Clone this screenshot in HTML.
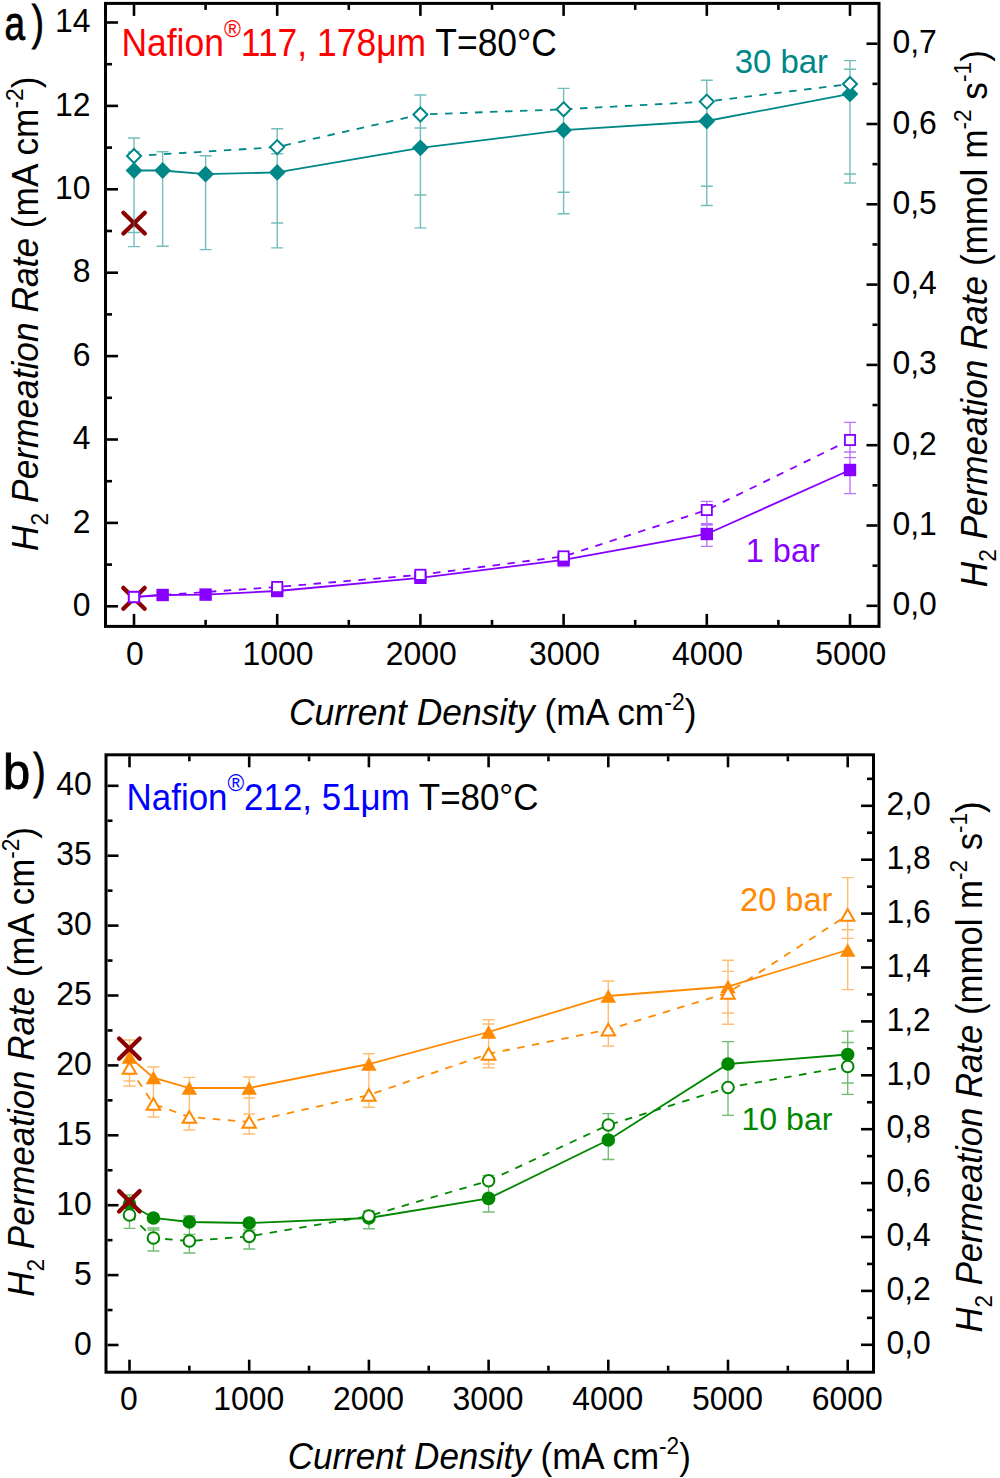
<!DOCTYPE html><html><head><meta charset="utf-8"><style>html,body{margin:0;padding:0;background:#fff;width:1000px;height:1478px;overflow:hidden}svg{display:block}text{font-family:'Liberation Sans',sans-serif}</style></head><body>
<svg width="1000" height="1478" viewBox="0 0 1000 1478">
<rect width="1000" height="1478" fill="#fff"/>
<line x1="123.40" y1="212.70" x2="144.80" y2="233.50" stroke="#8b0000" stroke-width="4.3" stroke-linecap="round"/>
<line x1="123.40" y1="233.50" x2="144.80" y2="212.70" stroke="#8b0000" stroke-width="4.3" stroke-linecap="round"/>
<line x1="123.30" y1="587.90" x2="144.70" y2="608.70" stroke="#8b0000" stroke-width="4.3" stroke-linecap="round"/>
<line x1="123.30" y1="608.70" x2="144.70" y2="587.90" stroke="#8b0000" stroke-width="4.3" stroke-linecap="round"/>
<path d="M134.00,138.00V246.60M128.00,138.00h12M128.00,152.00h12M128.00,232.50h12M128.00,246.60h12" stroke="#008787" stroke-width="1.4" fill="none" stroke-opacity="0.55"/>
<path d="M162.64,151.80V246.30M156.64,151.80h12M156.64,246.30h12" stroke="#008787" stroke-width="1.4" fill="none" stroke-opacity="0.55"/>
<path d="M205.60,155.80V249.60M199.60,155.80h12M199.60,249.60h12" stroke="#008787" stroke-width="1.4" fill="none" stroke-opacity="0.55"/>
<path d="M277.20,128.80V247.90M271.20,128.80h12M271.20,153.70h12M271.20,223.00h12M271.20,247.90h12" stroke="#008787" stroke-width="1.4" fill="none" stroke-opacity="0.55"/>
<path d="M420.40,95.00V227.90M414.40,95.00h12M414.40,128.00h12M414.40,195.00h12M414.40,227.90h12" stroke="#008787" stroke-width="1.4" fill="none" stroke-opacity="0.55"/>
<path d="M563.60,88.40V213.80M557.60,88.40h12M557.60,110.00h12M557.60,192.30h12M557.60,213.80h12" stroke="#008787" stroke-width="1.4" fill="none" stroke-opacity="0.55"/>
<path d="M706.80,80.30V205.50M700.80,80.30h12M700.80,99.50h12M700.80,186.30h12M700.80,205.50h12" stroke="#008787" stroke-width="1.4" fill="none" stroke-opacity="0.55"/>
<path d="M850.00,60.60V183.00M844.00,60.60h12M844.00,69.20h12M844.00,174.00h12M844.00,183.00h12" stroke="#008787" stroke-width="1.4" fill="none" stroke-opacity="0.55"/>
<path d="M134.00,592.00V600.00M128.00,592.00h12M128.00,600.00h12" stroke="#8700ff" stroke-width="1.4" fill="none" stroke-opacity="0.55"/>
<path d="M162.64,592.00V598.00M156.64,592.00h12M156.64,598.00h12" stroke="#8700ff" stroke-width="1.4" fill="none" stroke-opacity="0.55"/>
<path d="M277.20,584.00V590.00M271.20,584.00h12M271.20,590.00h12" stroke="#8700ff" stroke-width="1.4" fill="none" stroke-opacity="0.55"/>
<path d="M420.40,572.00V578.00M414.40,572.00h12M414.40,578.00h12" stroke="#8700ff" stroke-width="1.4" fill="none" stroke-opacity="0.55"/>
<path d="M563.60,553.00V566.60M557.60,553.00h12M557.60,566.60h12" stroke="#8700ff" stroke-width="1.4" fill="none" stroke-opacity="0.55"/>
<path d="M706.80,501.40V546.40M700.80,501.40h12M700.80,523.60h12M700.80,525.00h12M700.80,546.40h12" stroke="#8700ff" stroke-width="1.4" fill="none" stroke-opacity="0.55"/>
<path d="M850.00,422.40V493.60M844.00,422.40h12M844.00,452.00h12M844.00,457.60h12M844.00,493.60h12" stroke="#8700ff" stroke-width="1.4" fill="none" stroke-opacity="0.55"/>
<polyline points="134.00,156.00 277.20,147.10 420.40,114.50 563.60,109.30 706.80,101.60 850.00,84.00" fill="none" stroke="#008787" stroke-width="1.8" stroke-dasharray="7.5 7.5"/>
<polyline points="134.00,170.50 162.64,170.50 205.60,174.20 277.20,172.40 420.40,147.80 563.60,130.20 706.80,121.00 850.00,93.90" fill="none" stroke="#008787" stroke-width="1.8" />
<polyline points="134.00,597.00 277.20,587.00 420.40,574.80 563.60,556.40 706.80,510.00 850.00,440.00" fill="none" stroke="#8700ff" stroke-width="1.8" stroke-dasharray="7.5 7.5"/>
<polyline points="134.00,597.00 162.64,595.00 205.60,594.60 277.20,591.00 420.40,577.80 563.60,559.80 706.80,534.00 850.00,470.00" fill="none" stroke="#8700ff" stroke-width="1.8" />
<polygon points="134.0,162.1 142.4,170.5 134.0,178.9 125.6,170.5" fill="#008787"/>
<polygon points="162.64,162.1 171.04,170.5 162.64,178.9 154.23999999999998,170.5" fill="#008787"/>
<polygon points="205.6,165.79999999999998 214.0,174.2 205.6,182.6 197.2,174.2" fill="#008787"/>
<polygon points="277.2,164.0 285.59999999999997,172.4 277.2,180.8 268.8,172.4" fill="#008787"/>
<polygon points="420.4,139.4 428.79999999999995,147.8 420.4,156.20000000000002 412.0,147.8" fill="#008787"/>
<polygon points="563.5999999999999,121.79999999999998 571.9999999999999,130.2 563.5999999999999,138.6 555.1999999999999,130.2" fill="#008787"/>
<polygon points="706.8,112.6 715.1999999999999,121 706.8,129.4 698.4,121" fill="#008787"/>
<polygon points="850.0,85.5 858.4,93.9 850.0,102.30000000000001 841.6,93.9" fill="#008787"/>
<polygon points="134.0,149 141.0,156 134.0,163 127.0,156" fill="#fff" stroke="#008787" stroke-width="2"/>
<polygon points="277.2,140.1 284.2,147.1 277.2,154.1 270.2,147.1" fill="#fff" stroke="#008787" stroke-width="2"/>
<polygon points="420.4,107.5 427.4,114.5 420.4,121.5 413.4,114.5" fill="#fff" stroke="#008787" stroke-width="2"/>
<polygon points="563.5999999999999,102.3 570.5999999999999,109.3 563.5999999999999,116.3 556.5999999999999,109.3" fill="#fff" stroke="#008787" stroke-width="2"/>
<polygon points="706.8,94.6 713.8,101.6 706.8,108.6 699.8,101.6" fill="#fff" stroke="#008787" stroke-width="2"/>
<polygon points="850.0,77 857.0,84 850.0,91 843.0,84" fill="#fff" stroke="#008787" stroke-width="2"/>
<rect x="127.80" y="590.80" width="12.4" height="12.4" fill="#8700ff"/>
<rect x="156.44" y="588.80" width="12.4" height="12.4" fill="#8700ff"/>
<rect x="199.40" y="588.40" width="12.4" height="12.4" fill="#8700ff"/>
<rect x="271.00" y="584.80" width="12.4" height="12.4" fill="#8700ff"/>
<rect x="414.20" y="571.60" width="12.4" height="12.4" fill="#8700ff"/>
<rect x="557.40" y="553.60" width="12.4" height="12.4" fill="#8700ff"/>
<rect x="700.60" y="527.80" width="12.4" height="12.4" fill="#8700ff"/>
<rect x="843.80" y="463.80" width="12.4" height="12.4" fill="#8700ff"/>
<rect x="128.90" y="591.90" width="10.2" height="10.2" fill="#fff" stroke="#8700ff" stroke-width="1.8"/>
<rect x="272.10" y="581.90" width="10.2" height="10.2" fill="#fff" stroke="#8700ff" stroke-width="1.8"/>
<rect x="415.30" y="569.70" width="10.2" height="10.2" fill="#fff" stroke="#8700ff" stroke-width="1.8"/>
<rect x="558.50" y="551.30" width="10.2" height="10.2" fill="#fff" stroke="#8700ff" stroke-width="1.8"/>
<rect x="701.70" y="504.90" width="10.2" height="10.2" fill="#fff" stroke="#8700ff" stroke-width="1.8"/>
<rect x="844.90" y="434.90" width="10.2" height="10.2" fill="#fff" stroke="#8700ff" stroke-width="1.8"/>
<rect x="105.5" y="3.4" width="773.5" height="623.0" fill="none" stroke="#000" stroke-width="3"/>
<line x1="134.00" y1="624.90" x2="134.00" y2="613.90" stroke="#000" stroke-width="2.6" />
<line x1="134.00" y1="4.90" x2="134.00" y2="15.90" stroke="#000" stroke-width="2.6" />
<line x1="277.20" y1="624.90" x2="277.20" y2="613.90" stroke="#000" stroke-width="2.6" />
<line x1="277.20" y1="4.90" x2="277.20" y2="15.90" stroke="#000" stroke-width="2.6" />
<line x1="420.40" y1="624.90" x2="420.40" y2="613.90" stroke="#000" stroke-width="2.6" />
<line x1="420.40" y1="4.90" x2="420.40" y2="15.90" stroke="#000" stroke-width="2.6" />
<line x1="563.60" y1="624.90" x2="563.60" y2="613.90" stroke="#000" stroke-width="2.6" />
<line x1="563.60" y1="4.90" x2="563.60" y2="15.90" stroke="#000" stroke-width="2.6" />
<line x1="706.80" y1="624.90" x2="706.80" y2="613.90" stroke="#000" stroke-width="2.6" />
<line x1="706.80" y1="4.90" x2="706.80" y2="15.90" stroke="#000" stroke-width="2.6" />
<line x1="850.00" y1="624.90" x2="850.00" y2="613.90" stroke="#000" stroke-width="2.6" />
<line x1="850.00" y1="4.90" x2="850.00" y2="15.90" stroke="#000" stroke-width="2.6" />
<line x1="205.60" y1="624.90" x2="205.60" y2="619.90" stroke="#000" stroke-width="2.6" />
<line x1="205.60" y1="4.90" x2="205.60" y2="9.90" stroke="#000" stroke-width="2.6" />
<line x1="348.80" y1="624.90" x2="348.80" y2="619.90" stroke="#000" stroke-width="2.6" />
<line x1="348.80" y1="4.90" x2="348.80" y2="9.90" stroke="#000" stroke-width="2.6" />
<line x1="492.00" y1="624.90" x2="492.00" y2="619.90" stroke="#000" stroke-width="2.6" />
<line x1="492.00" y1="4.90" x2="492.00" y2="9.90" stroke="#000" stroke-width="2.6" />
<line x1="635.20" y1="624.90" x2="635.20" y2="619.90" stroke="#000" stroke-width="2.6" />
<line x1="635.20" y1="4.90" x2="635.20" y2="9.90" stroke="#000" stroke-width="2.6" />
<line x1="778.40" y1="624.90" x2="778.40" y2="619.90" stroke="#000" stroke-width="2.6" />
<line x1="778.40" y1="4.90" x2="778.40" y2="9.90" stroke="#000" stroke-width="2.6" />
<line x1="107.00" y1="606.30" x2="118.00" y2="606.30" stroke="#000" stroke-width="2.6" />
<line x1="107.00" y1="522.90" x2="118.00" y2="522.90" stroke="#000" stroke-width="2.6" />
<line x1="107.00" y1="439.50" x2="118.00" y2="439.50" stroke="#000" stroke-width="2.6" />
<line x1="107.00" y1="356.10" x2="118.00" y2="356.10" stroke="#000" stroke-width="2.6" />
<line x1="107.00" y1="272.70" x2="118.00" y2="272.70" stroke="#000" stroke-width="2.6" />
<line x1="107.00" y1="189.30" x2="118.00" y2="189.30" stroke="#000" stroke-width="2.6" />
<line x1="107.00" y1="105.90" x2="118.00" y2="105.90" stroke="#000" stroke-width="2.6" />
<line x1="107.00" y1="22.50" x2="118.00" y2="22.50" stroke="#000" stroke-width="2.6" />
<line x1="107.00" y1="564.60" x2="112.00" y2="564.60" stroke="#000" stroke-width="2.6" />
<line x1="107.00" y1="481.20" x2="112.00" y2="481.20" stroke="#000" stroke-width="2.6" />
<line x1="107.00" y1="397.80" x2="112.00" y2="397.80" stroke="#000" stroke-width="2.6" />
<line x1="107.00" y1="314.40" x2="112.00" y2="314.40" stroke="#000" stroke-width="2.6" />
<line x1="107.00" y1="231.00" x2="112.00" y2="231.00" stroke="#000" stroke-width="2.6" />
<line x1="107.00" y1="147.60" x2="112.00" y2="147.60" stroke="#000" stroke-width="2.6" />
<line x1="107.00" y1="64.20" x2="112.00" y2="64.20" stroke="#000" stroke-width="2.6" />
<line x1="877.50" y1="605.80" x2="866.50" y2="605.80" stroke="#000" stroke-width="2.6" />
<line x1="877.50" y1="525.50" x2="866.50" y2="525.50" stroke="#000" stroke-width="2.6" />
<line x1="877.50" y1="445.20" x2="866.50" y2="445.20" stroke="#000" stroke-width="2.6" />
<line x1="877.50" y1="364.90" x2="866.50" y2="364.90" stroke="#000" stroke-width="2.6" />
<line x1="877.50" y1="284.60" x2="866.50" y2="284.60" stroke="#000" stroke-width="2.6" />
<line x1="877.50" y1="204.30" x2="866.50" y2="204.30" stroke="#000" stroke-width="2.6" />
<line x1="877.50" y1="124.00" x2="866.50" y2="124.00" stroke="#000" stroke-width="2.6" />
<line x1="877.50" y1="43.70" x2="866.50" y2="43.70" stroke="#000" stroke-width="2.6" />
<line x1="877.50" y1="565.65" x2="872.50" y2="565.65" stroke="#000" stroke-width="2.6" />
<line x1="877.50" y1="485.35" x2="872.50" y2="485.35" stroke="#000" stroke-width="2.6" />
<line x1="877.50" y1="405.05" x2="872.50" y2="405.05" stroke="#000" stroke-width="2.6" />
<line x1="877.50" y1="324.75" x2="872.50" y2="324.75" stroke="#000" stroke-width="2.6" />
<line x1="877.50" y1="244.45" x2="872.50" y2="244.45" stroke="#000" stroke-width="2.6" />
<line x1="877.50" y1="164.15" x2="872.50" y2="164.15" stroke="#000" stroke-width="2.6" />
<line x1="877.50" y1="83.85" x2="872.50" y2="83.85" stroke="#000" stroke-width="2.6" />
<text transform="translate(90.50,616.00) scale(1.03,1.075)" font-size="31" fill="#000" text-anchor="end" >0</text>
<text transform="translate(90.50,532.60) scale(1.03,1.075)" font-size="31" fill="#000" text-anchor="end" >2</text>
<text transform="translate(90.50,449.20) scale(1.03,1.075)" font-size="31" fill="#000" text-anchor="end" >4</text>
<text transform="translate(90.50,365.80) scale(1.03,1.075)" font-size="31" fill="#000" text-anchor="end" >6</text>
<text transform="translate(90.50,282.40) scale(1.03,1.075)" font-size="31" fill="#000" text-anchor="end" >8</text>
<text transform="translate(90.50,199.00) scale(1.03,1.075)" font-size="31" fill="#000" text-anchor="end" >10</text>
<text transform="translate(90.50,115.60) scale(1.03,1.075)" font-size="31" fill="#000" text-anchor="end" >12</text>
<text transform="translate(90.50,32.20) scale(1.03,1.075)" font-size="31" fill="#000" text-anchor="end" >14</text>
<text transform="translate(134.80,665.30) scale(1.03,1.075)" font-size="31" fill="#000" text-anchor="middle" >0</text>
<text transform="translate(278.00,665.30) scale(1.03,1.075)" font-size="31" fill="#000" text-anchor="middle" >1000</text>
<text transform="translate(421.20,665.30) scale(1.03,1.075)" font-size="31" fill="#000" text-anchor="middle" >2000</text>
<text transform="translate(564.40,665.30) scale(1.03,1.075)" font-size="31" fill="#000" text-anchor="middle" >3000</text>
<text transform="translate(707.60,665.30) scale(1.03,1.075)" font-size="31" fill="#000" text-anchor="middle" >4000</text>
<text transform="translate(850.80,665.30) scale(1.03,1.075)" font-size="31" fill="#000" text-anchor="middle" >5000</text>
<text transform="translate(892.50,615.30) scale(1.03,1.075)" font-size="31" fill="#000" text-anchor="start" >0,0</text>
<text transform="translate(892.50,535.00) scale(1.03,1.075)" font-size="31" fill="#000" text-anchor="start" >0,1</text>
<text transform="translate(892.50,454.70) scale(1.03,1.075)" font-size="31" fill="#000" text-anchor="start" >0,2</text>
<text transform="translate(892.50,374.40) scale(1.03,1.075)" font-size="31" fill="#000" text-anchor="start" >0,3</text>
<text transform="translate(892.50,294.10) scale(1.03,1.075)" font-size="31" fill="#000" text-anchor="start" >0,4</text>
<text transform="translate(892.50,213.80) scale(1.03,1.075)" font-size="31" fill="#000" text-anchor="start" >0,5</text>
<text transform="translate(892.50,133.50) scale(1.03,1.075)" font-size="31" fill="#000" text-anchor="start" >0,6</text>
<text transform="translate(892.50,53.20) scale(1.03,1.075)" font-size="31" fill="#000" text-anchor="start" >0,7</text>
<g transform="translate(4.50,40.01) scale(0.7525,0.9813)"><text stroke="#000" stroke-width="0.9" font-size="49" >a</text></g>
<g transform="translate(31.63,38.50) scale(0.7451,1.0000)"><text stroke="#000" stroke-width="0.9" font-size="49" >)</text></g>
<g transform="translate(121.43,56.30) scale(1.0430,1.1140)"><text font-size="34" fill="#ff0000">Nafion<tspan font-size="22" dy="-17">®</tspan><tspan dy="17">117, 178μm</tspan><tspan fill="#000"> T=80°C</tspan></text></g>
<g transform="translate(734.67,73.34) scale(1.0628,1.0505)"><text fill="#008787" font-size="31" >30 bar</text></g>
<g transform="translate(745.74,562.14) scale(1.0494,1.0462)"><text fill="#8700ff" font-size="31" >1 bar</text></g>
<g transform="translate(288.92,725.33) scale(1.0406,1.1000)"><text font-size="34" ><tspan font-style="italic">Current Density</tspan> (mA cm<tspan font-size="22" dy="-14">-2</tspan><tspan dy="14">)</tspan></text></g>
<g transform="translate(38.40,550.94) rotate(-90) scale(1.0387,1.0753)"><text font-size="34" ><tspan font-style="italic">H</tspan><tspan font-size="22" dy="9">2</tspan><tspan font-style="italic" dy="-9"> Permeation Rate</tspan> (mA cm<tspan font-size="22" dy="-14">-2</tspan><tspan dy="14">)</tspan></text></g>
<g transform="translate(986.50,587.13) rotate(-90) scale(1.0332,1.1054)"><text font-size="34" ><tspan font-style="italic">H</tspan><tspan font-size="22" dy="9">2</tspan><tspan font-style="italic" dy="-9"> Permeation Rate</tspan> (mmol m<tspan font-size="22" dy="-14">-2</tspan><tspan dy="14"> s</tspan><tspan font-size="22" dy="-14">-1</tspan><tspan dy="14">)</tspan></text></g>
<path d="M129.50,1040.00V1086.00M123.50,1040.00h12M123.50,1081.00h12M123.50,1086.00h12" stroke="#ff8900" stroke-width="1.4" fill="none" stroke-opacity="0.55"/>
<path d="M153.44,1067.00V1117.00M147.44,1067.00h12M147.44,1117.00h12" stroke="#ff8900" stroke-width="1.4" fill="none" stroke-opacity="0.55"/>
<path d="M189.35,1077.40V1130.00M183.35,1077.40h12M183.35,1130.00h12" stroke="#ff8900" stroke-width="1.4" fill="none" stroke-opacity="0.55"/>
<path d="M249.20,1077.00V1134.00M243.20,1077.00h12M243.20,1098.00h12M243.20,1114.00h12M243.20,1134.00h12" stroke="#ff8900" stroke-width="1.4" fill="none" stroke-opacity="0.55"/>
<path d="M368.90,1053.80V1107.20M362.90,1053.80h12M362.90,1107.20h12" stroke="#ff8900" stroke-width="1.4" fill="none" stroke-opacity="0.55"/>
<path d="M488.60,1019.80V1067.80M482.60,1019.80h12M482.60,1024.00h12M482.60,1064.00h12M482.60,1067.80h12" stroke="#ff8900" stroke-width="1.4" fill="none" stroke-opacity="0.55"/>
<path d="M608.30,981.00V1046.00M602.30,981.00h12M602.30,1046.00h12" stroke="#ff8900" stroke-width="1.4" fill="none" stroke-opacity="0.55"/>
<path d="M728.00,960.20V1024.20M722.00,960.20h12M722.00,971.40h12M722.00,1013.00h12M722.00,1024.20h12" stroke="#ff8900" stroke-width="1.4" fill="none" stroke-opacity="0.55"/>
<path d="M847.70,877.60V989.60M841.70,877.60h12M841.70,929.80h12M841.70,938.40h12M841.70,989.60h12" stroke="#ff8900" stroke-width="1.4" fill="none" stroke-opacity="0.55"/>
<path d="M129.50,1195.00V1228.40M123.50,1195.00h12M123.50,1228.40h12" stroke="#008700" stroke-width="1.4" fill="none" stroke-opacity="0.55"/>
<path d="M153.44,1228.00V1251.00M147.44,1228.00h12M147.44,1230.00h12M147.44,1251.00h12" stroke="#008700" stroke-width="1.4" fill="none" stroke-opacity="0.55"/>
<path d="M189.35,1216.00V1253.00M183.35,1216.00h12M183.35,1234.40h12M183.35,1253.00h12" stroke="#008700" stroke-width="1.4" fill="none" stroke-opacity="0.55"/>
<path d="M249.20,1230.00V1249.00M243.20,1230.00h12M243.20,1249.00h12" stroke="#008700" stroke-width="1.4" fill="none" stroke-opacity="0.55"/>
<path d="M368.90,1211.00V1228.80M362.90,1211.00h12M362.90,1228.80h12" stroke="#008700" stroke-width="1.4" fill="none" stroke-opacity="0.55"/>
<path d="M488.60,1175.40V1212.00M482.60,1175.40h12M482.60,1212.00h12" stroke="#008700" stroke-width="1.4" fill="none" stroke-opacity="0.55"/>
<path d="M608.30,1113.60V1159.50M602.30,1113.60h12M602.30,1159.50h12" stroke="#008700" stroke-width="1.4" fill="none" stroke-opacity="0.55"/>
<path d="M728.00,1041.60V1115.40M722.00,1041.60h12M722.00,1115.40h12" stroke="#008700" stroke-width="1.4" fill="none" stroke-opacity="0.55"/>
<path d="M847.70,1031.10V1094.40M841.70,1031.10h12M841.70,1042.50h12M841.70,1083.00h12M841.70,1094.40h12" stroke="#008700" stroke-width="1.4" fill="none" stroke-opacity="0.55"/>
<polyline points="129.50,1068.00 153.44,1104.00 189.35,1117.00 249.20,1122.00 368.90,1095.00 488.60,1053.80 608.30,1029.60 728.00,992.80 847.70,915.00" fill="none" stroke="#ff8900" stroke-width="1.8" stroke-dasharray="7.5 7.5"/>
<polyline points="129.50,1057.00 153.44,1077.60 189.35,1088.00 249.20,1088.00 368.90,1064.00 488.60,1032.00 608.30,996.00 728.00,986.50 847.70,950.00" fill="none" stroke="#ff8900" stroke-width="1.8" />
<polyline points="129.50,1215.00 153.44,1238.00 189.35,1241.00 249.20,1236.40 368.90,1216.00 488.60,1180.80 608.30,1125.00 728.00,1087.50 847.70,1066.50" fill="none" stroke="#008700" stroke-width="1.8" stroke-dasharray="7.5 7.5"/>
<polyline points="129.50,1204.00 153.44,1218.00 189.35,1222.00 249.20,1223.00 368.90,1218.00 488.60,1198.40 608.30,1140.00 728.00,1064.00 847.70,1054.50" fill="none" stroke="#008700" stroke-width="1.8" />
<polygon points="129.5,1050.2575 137.25,1063.7425 121.75,1063.7425" fill="#ff8900"/>
<polygon points="153.44,1070.8574999999998 161.19,1084.3425 145.69,1084.3425" fill="#ff8900"/>
<polygon points="189.35,1081.2575 197.1,1094.7425 181.6,1094.7425" fill="#ff8900"/>
<polygon points="249.2,1081.2575 256.95,1094.7425 241.45,1094.7425" fill="#ff8900"/>
<polygon points="368.9,1057.2575 376.65,1070.7425 361.15,1070.7425" fill="#ff8900"/>
<polygon points="488.6,1025.2575 496.35,1038.7425 480.85,1038.7425" fill="#ff8900"/>
<polygon points="608.3,989.2575 616.05,1002.7425 600.55,1002.7425" fill="#ff8900"/>
<polygon points="728.0,979.7575 735.75,993.2425 720.25,993.2425" fill="#ff8900"/>
<polygon points="847.7,943.2575 855.45,956.7425 839.95,956.7425" fill="#ff8900"/>
<polygon points="129.5,1062.1275 136.25,1073.8725 122.75,1073.8725" fill="#fff" stroke="#ff8900" stroke-width="2" stroke-linejoin="miter"/>
<polygon points="153.44,1098.1275 160.19,1109.8725 146.69,1109.8725" fill="#fff" stroke="#ff8900" stroke-width="2" stroke-linejoin="miter"/>
<polygon points="189.35,1111.1275 196.1,1122.8725 182.6,1122.8725" fill="#fff" stroke="#ff8900" stroke-width="2" stroke-linejoin="miter"/>
<polygon points="249.2,1116.1275 255.95,1127.8725 242.45,1127.8725" fill="#fff" stroke="#ff8900" stroke-width="2" stroke-linejoin="miter"/>
<polygon points="368.9,1089.1275 375.65,1100.8725 362.15,1100.8725" fill="#fff" stroke="#ff8900" stroke-width="2" stroke-linejoin="miter"/>
<polygon points="488.6,1047.9275 495.35,1059.6725 481.85,1059.6725" fill="#fff" stroke="#ff8900" stroke-width="2" stroke-linejoin="miter"/>
<polygon points="608.3,1023.7275 615.05,1035.4724999999999 601.55,1035.4724999999999" fill="#fff" stroke="#ff8900" stroke-width="2" stroke-linejoin="miter"/>
<polygon points="728.0,986.9275 734.75,998.6724999999999 721.25,998.6724999999999" fill="#fff" stroke="#ff8900" stroke-width="2" stroke-linejoin="miter"/>
<polygon points="847.7,909.1275 854.45,920.8725 840.95,920.8725" fill="#fff" stroke="#ff8900" stroke-width="2" stroke-linejoin="miter"/>
<circle cx="129.5" cy="1204" r="6.8" fill="#008700"/>
<circle cx="153.44" cy="1218" r="6.8" fill="#008700"/>
<circle cx="189.35" cy="1222" r="6.8" fill="#008700"/>
<circle cx="249.2" cy="1223" r="6.8" fill="#008700"/>
<circle cx="368.9" cy="1218" r="6.8" fill="#008700"/>
<circle cx="488.6" cy="1198.4" r="6.8" fill="#008700"/>
<circle cx="608.3" cy="1140" r="6.8" fill="#008700"/>
<circle cx="728.0" cy="1064" r="6.8" fill="#008700"/>
<circle cx="847.7" cy="1054.5" r="6.8" fill="#008700"/>
<circle cx="129.5" cy="1215" r="5.8" fill="#fff" stroke="#008700" stroke-width="2"/>
<circle cx="153.44" cy="1238" r="5.8" fill="#fff" stroke="#008700" stroke-width="2"/>
<circle cx="189.35" cy="1241" r="5.8" fill="#fff" stroke="#008700" stroke-width="2"/>
<circle cx="249.2" cy="1236.4" r="5.8" fill="#fff" stroke="#008700" stroke-width="2"/>
<circle cx="368.9" cy="1216" r="5.8" fill="#fff" stroke="#008700" stroke-width="2"/>
<circle cx="488.6" cy="1180.8" r="5.8" fill="#fff" stroke="#008700" stroke-width="2"/>
<circle cx="608.3" cy="1125" r="5.8" fill="#fff" stroke="#008700" stroke-width="2"/>
<circle cx="728.0" cy="1087.5" r="5.8" fill="#fff" stroke="#008700" stroke-width="2"/>
<circle cx="847.7" cy="1066.5" r="5.8" fill="#fff" stroke="#008700" stroke-width="2"/>
<line x1="119.10" y1="1038.45" x2="139.70" y2="1058.75" stroke="#8b0000" stroke-width="4.3" stroke-linecap="round"/>
<line x1="119.10" y1="1058.75" x2="139.70" y2="1038.45" stroke="#8b0000" stroke-width="4.3" stroke-linecap="round"/>
<line x1="119.10" y1="1191.15" x2="139.70" y2="1211.45" stroke="#8b0000" stroke-width="4.3" stroke-linecap="round"/>
<line x1="119.10" y1="1211.45" x2="139.70" y2="1191.15" stroke="#8b0000" stroke-width="4.3" stroke-linecap="round"/>
<rect x="106" y="754.8" width="767.5" height="617.4000000000001" fill="none" stroke="#000" stroke-width="3"/>
<line x1="129.50" y1="1370.70" x2="129.50" y2="1359.70" stroke="#000" stroke-width="2.6" />
<line x1="129.50" y1="756.30" x2="129.50" y2="767.30" stroke="#000" stroke-width="2.6" />
<line x1="249.20" y1="1370.70" x2="249.20" y2="1359.70" stroke="#000" stroke-width="2.6" />
<line x1="249.20" y1="756.30" x2="249.20" y2="767.30" stroke="#000" stroke-width="2.6" />
<line x1="368.90" y1="1370.70" x2="368.90" y2="1359.70" stroke="#000" stroke-width="2.6" />
<line x1="368.90" y1="756.30" x2="368.90" y2="767.30" stroke="#000" stroke-width="2.6" />
<line x1="488.60" y1="1370.70" x2="488.60" y2="1359.70" stroke="#000" stroke-width="2.6" />
<line x1="488.60" y1="756.30" x2="488.60" y2="767.30" stroke="#000" stroke-width="2.6" />
<line x1="608.30" y1="1370.70" x2="608.30" y2="1359.70" stroke="#000" stroke-width="2.6" />
<line x1="608.30" y1="756.30" x2="608.30" y2="767.30" stroke="#000" stroke-width="2.6" />
<line x1="728.00" y1="1370.70" x2="728.00" y2="1359.70" stroke="#000" stroke-width="2.6" />
<line x1="728.00" y1="756.30" x2="728.00" y2="767.30" stroke="#000" stroke-width="2.6" />
<line x1="847.70" y1="1370.70" x2="847.70" y2="1359.70" stroke="#000" stroke-width="2.6" />
<line x1="847.70" y1="756.30" x2="847.70" y2="767.30" stroke="#000" stroke-width="2.6" />
<line x1="189.35" y1="1370.70" x2="189.35" y2="1365.70" stroke="#000" stroke-width="2.6" />
<line x1="189.35" y1="756.30" x2="189.35" y2="761.30" stroke="#000" stroke-width="2.6" />
<line x1="309.05" y1="1370.70" x2="309.05" y2="1365.70" stroke="#000" stroke-width="2.6" />
<line x1="309.05" y1="756.30" x2="309.05" y2="761.30" stroke="#000" stroke-width="2.6" />
<line x1="428.75" y1="1370.70" x2="428.75" y2="1365.70" stroke="#000" stroke-width="2.6" />
<line x1="428.75" y1="756.30" x2="428.75" y2="761.30" stroke="#000" stroke-width="2.6" />
<line x1="548.45" y1="1370.70" x2="548.45" y2="1365.70" stroke="#000" stroke-width="2.6" />
<line x1="548.45" y1="756.30" x2="548.45" y2="761.30" stroke="#000" stroke-width="2.6" />
<line x1="668.15" y1="1370.70" x2="668.15" y2="1365.70" stroke="#000" stroke-width="2.6" />
<line x1="668.15" y1="756.30" x2="668.15" y2="761.30" stroke="#000" stroke-width="2.6" />
<line x1="787.85" y1="1370.70" x2="787.85" y2="1365.70" stroke="#000" stroke-width="2.6" />
<line x1="787.85" y1="756.30" x2="787.85" y2="761.30" stroke="#000" stroke-width="2.6" />
<line x1="107.50" y1="1345.00" x2="118.50" y2="1345.00" stroke="#000" stroke-width="2.6" />
<line x1="107.50" y1="1275.10" x2="118.50" y2="1275.10" stroke="#000" stroke-width="2.6" />
<line x1="107.50" y1="1205.20" x2="118.50" y2="1205.20" stroke="#000" stroke-width="2.6" />
<line x1="107.50" y1="1135.30" x2="118.50" y2="1135.30" stroke="#000" stroke-width="2.6" />
<line x1="107.50" y1="1065.40" x2="118.50" y2="1065.40" stroke="#000" stroke-width="2.6" />
<line x1="107.50" y1="995.50" x2="118.50" y2="995.50" stroke="#000" stroke-width="2.6" />
<line x1="107.50" y1="925.60" x2="118.50" y2="925.60" stroke="#000" stroke-width="2.6" />
<line x1="107.50" y1="855.70" x2="118.50" y2="855.70" stroke="#000" stroke-width="2.6" />
<line x1="107.50" y1="785.80" x2="118.50" y2="785.80" stroke="#000" stroke-width="2.6" />
<line x1="107.50" y1="1310.05" x2="112.50" y2="1310.05" stroke="#000" stroke-width="2.6" />
<line x1="107.50" y1="1240.15" x2="112.50" y2="1240.15" stroke="#000" stroke-width="2.6" />
<line x1="107.50" y1="1170.25" x2="112.50" y2="1170.25" stroke="#000" stroke-width="2.6" />
<line x1="107.50" y1="1100.35" x2="112.50" y2="1100.35" stroke="#000" stroke-width="2.6" />
<line x1="107.50" y1="1030.45" x2="112.50" y2="1030.45" stroke="#000" stroke-width="2.6" />
<line x1="107.50" y1="960.55" x2="112.50" y2="960.55" stroke="#000" stroke-width="2.6" />
<line x1="107.50" y1="890.65" x2="112.50" y2="890.65" stroke="#000" stroke-width="2.6" />
<line x1="107.50" y1="820.75" x2="112.50" y2="820.75" stroke="#000" stroke-width="2.6" />
<line x1="872.00" y1="1344.80" x2="861.00" y2="1344.80" stroke="#000" stroke-width="2.6" />
<line x1="872.00" y1="1290.90" x2="861.00" y2="1290.90" stroke="#000" stroke-width="2.6" />
<line x1="872.00" y1="1237.00" x2="861.00" y2="1237.00" stroke="#000" stroke-width="2.6" />
<line x1="872.00" y1="1183.10" x2="861.00" y2="1183.10" stroke="#000" stroke-width="2.6" />
<line x1="872.00" y1="1129.20" x2="861.00" y2="1129.20" stroke="#000" stroke-width="2.6" />
<line x1="872.00" y1="1075.30" x2="861.00" y2="1075.30" stroke="#000" stroke-width="2.6" />
<line x1="872.00" y1="1021.40" x2="861.00" y2="1021.40" stroke="#000" stroke-width="2.6" />
<line x1="872.00" y1="967.50" x2="861.00" y2="967.50" stroke="#000" stroke-width="2.6" />
<line x1="872.00" y1="913.60" x2="861.00" y2="913.60" stroke="#000" stroke-width="2.6" />
<line x1="872.00" y1="859.70" x2="861.00" y2="859.70" stroke="#000" stroke-width="2.6" />
<line x1="872.00" y1="805.80" x2="861.00" y2="805.80" stroke="#000" stroke-width="2.6" />
<line x1="872.00" y1="1317.85" x2="867.00" y2="1317.85" stroke="#000" stroke-width="2.6" />
<line x1="872.00" y1="1263.95" x2="867.00" y2="1263.95" stroke="#000" stroke-width="2.6" />
<line x1="872.00" y1="1210.05" x2="867.00" y2="1210.05" stroke="#000" stroke-width="2.6" />
<line x1="872.00" y1="1156.15" x2="867.00" y2="1156.15" stroke="#000" stroke-width="2.6" />
<line x1="872.00" y1="1102.25" x2="867.00" y2="1102.25" stroke="#000" stroke-width="2.6" />
<line x1="872.00" y1="1048.35" x2="867.00" y2="1048.35" stroke="#000" stroke-width="2.6" />
<line x1="872.00" y1="994.45" x2="867.00" y2="994.45" stroke="#000" stroke-width="2.6" />
<line x1="872.00" y1="940.55" x2="867.00" y2="940.55" stroke="#000" stroke-width="2.6" />
<line x1="872.00" y1="886.65" x2="867.00" y2="886.65" stroke="#000" stroke-width="2.6" />
<line x1="872.00" y1="832.75" x2="867.00" y2="832.75" stroke="#000" stroke-width="2.6" />
<line x1="872.00" y1="778.85" x2="867.00" y2="778.85" stroke="#000" stroke-width="2.6" />
<text transform="translate(91.80,1354.50) scale(1.03,1.075)" font-size="31" fill="#000" text-anchor="end" >0</text>
<text transform="translate(91.80,1284.60) scale(1.03,1.075)" font-size="31" fill="#000" text-anchor="end" >5</text>
<text transform="translate(91.80,1214.70) scale(1.03,1.075)" font-size="31" fill="#000" text-anchor="end" >10</text>
<text transform="translate(91.80,1144.80) scale(1.03,1.075)" font-size="31" fill="#000" text-anchor="end" >15</text>
<text transform="translate(91.80,1074.90) scale(1.03,1.075)" font-size="31" fill="#000" text-anchor="end" >20</text>
<text transform="translate(91.80,1005.00) scale(1.03,1.075)" font-size="31" fill="#000" text-anchor="end" >25</text>
<text transform="translate(91.80,935.10) scale(1.03,1.075)" font-size="31" fill="#000" text-anchor="end" >30</text>
<text transform="translate(91.80,865.20) scale(1.03,1.075)" font-size="31" fill="#000" text-anchor="end" >35</text>
<text transform="translate(91.80,795.30) scale(1.03,1.075)" font-size="31" fill="#000" text-anchor="end" >40</text>
<text transform="translate(129.00,1410.00) scale(1.03,1.075)" font-size="31" fill="#000" text-anchor="middle" >0</text>
<text transform="translate(248.70,1410.00) scale(1.03,1.075)" font-size="31" fill="#000" text-anchor="middle" >1000</text>
<text transform="translate(368.40,1410.00) scale(1.03,1.075)" font-size="31" fill="#000" text-anchor="middle" >2000</text>
<text transform="translate(488.10,1410.00) scale(1.03,1.075)" font-size="31" fill="#000" text-anchor="middle" >3000</text>
<text transform="translate(607.80,1410.00) scale(1.03,1.075)" font-size="31" fill="#000" text-anchor="middle" >4000</text>
<text transform="translate(727.50,1410.00) scale(1.03,1.075)" font-size="31" fill="#000" text-anchor="middle" >5000</text>
<text transform="translate(847.20,1410.00) scale(1.03,1.075)" font-size="31" fill="#000" text-anchor="middle" >6000</text>
<text transform="translate(886.50,1354.00) scale(1.03,1.075)" font-size="31" fill="#000" text-anchor="start" >0,0</text>
<text transform="translate(886.50,1300.10) scale(1.03,1.075)" font-size="31" fill="#000" text-anchor="start" >0,2</text>
<text transform="translate(886.50,1246.20) scale(1.03,1.075)" font-size="31" fill="#000" text-anchor="start" >0,4</text>
<text transform="translate(886.50,1192.30) scale(1.03,1.075)" font-size="31" fill="#000" text-anchor="start" >0,6</text>
<text transform="translate(886.50,1138.40) scale(1.03,1.075)" font-size="31" fill="#000" text-anchor="start" >0,8</text>
<text transform="translate(886.50,1084.50) scale(1.03,1.075)" font-size="31" fill="#000" text-anchor="start" >1,0</text>
<text transform="translate(886.50,1030.60) scale(1.03,1.075)" font-size="31" fill="#000" text-anchor="start" >1,2</text>
<text transform="translate(886.50,976.70) scale(1.03,1.075)" font-size="31" fill="#000" text-anchor="start" >1,4</text>
<text transform="translate(886.50,922.80) scale(1.03,1.075)" font-size="31" fill="#000" text-anchor="start" >1,6</text>
<text transform="translate(886.50,868.90) scale(1.03,1.075)" font-size="31" fill="#000" text-anchor="start" >1,8</text>
<text transform="translate(886.50,815.00) scale(1.03,1.075)" font-size="31" fill="#000" text-anchor="start" >2,0</text>
<g transform="translate(3.06,789.19) scale(0.9955,1.0250)"><text stroke="#000" stroke-width="0.9" font-size="49" >b</text></g>
<g transform="translate(33.22,787.78) scale(0.7529,1.0022)"><text stroke="#000" stroke-width="0.9" font-size="49" >)</text></g>
<g transform="translate(126.58,810.00) scale(1.0268,1.0968)"><text font-size="34" fill="#0000ff">Nafion<tspan font-size="22" dy="-17">®</tspan><tspan dy="17">212, 51μm</tspan><tspan fill="#000"> T=80°C</tspan></text></g>
<g transform="translate(740.02,911.14) scale(1.0519,1.0418)"><text fill="#ff8900" font-size="31" >20 bar</text></g>
<g transform="translate(741.47,1130.04) scale(1.0353,1.0330)"><text fill="#008700" font-size="31" >10 bar</text></g>
<g transform="translate(287.74,1469.33) scale(1.0295,1.0667)"><text font-size="34" ><tspan font-style="italic">Current Density</tspan> (mA cm<tspan font-size="22" dy="-14">-2</tspan><tspan dy="14">)</tspan></text></g>
<g transform="translate(33.90,1296.73) rotate(-90) scale(1.0283,1.0882)"><text font-size="34" ><tspan font-style="italic">H</tspan><tspan font-size="22" dy="9">2</tspan><tspan font-style="italic" dy="-9"> Permeation Rate</tspan> (mA cm<tspan font-size="22" dy="-14">-2</tspan><tspan dy="14">)</tspan></text></g>
<g transform="translate(982.40,1332.62) rotate(-90) scale(1.0220,1.1011)"><text font-size="34" ><tspan font-style="italic">H</tspan><tspan font-size="22" dy="9">2</tspan><tspan font-style="italic" dy="-9"> Permeation Rate</tspan> (mmol m<tspan font-size="22" dy="-14">-2</tspan><tspan dy="14"> s</tspan><tspan font-size="22" dy="-14">-1</tspan><tspan dy="14">)</tspan></text></g>
</svg></body></html>
